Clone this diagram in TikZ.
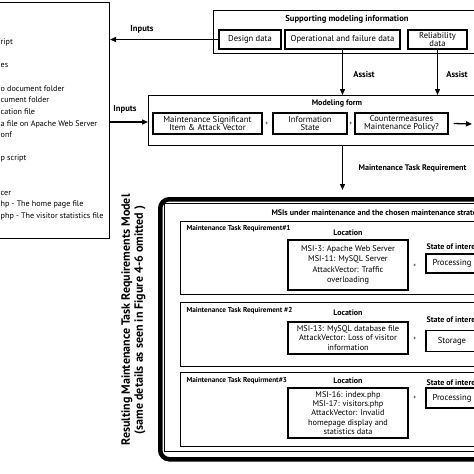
\documentclass[tikz,border=0pt]{standalone}
\usepackage{fontspec}
\setmainfont{PT Sans}
\usetikzlibrary{arrows.meta,calc}
\begin{document}
\begin{tikzpicture}[x=1pt,y=-1pt,
  fs/.style={font=\fontsize{8.6}{9.5}\selectfont},
  fb/.style={font=\fontsize{8.6}{9.5}\selectfont\bfseries},
  frame/.style={draw, line width=1pt, anchor=north west, inner sep=0pt},
  ibox/.style={draw, line width=1.2pt, align=center, inner sep=1pt, fs},
  lt/.style={anchor=west, inner sep=0pt, font=\fontsize{8.1}{9}\selectfont},
  arr/.style={line width=1.3pt, -{Triangle[length=6pt,width=5pt]}},
  plus/.style={inner sep=0pt, font=\fontsize{6}{6}\selectfont}
]
\useasboundingbox (0,0) rectangle (474,474);
\clip (0,0) rectangle (474,474);

% left source box
\node[frame, minimum width=129pt, minimum height=236pt] (src) at (-20,2) {};
\node[lt] (l1) at (0.5,42) {ript};
\node[lt] (l2) at (0.5,65) {es};
\node[lt] (l3) at (0.5,89) {o document folder};
\node[lt] (l4) at (0.5,100) {cument folder};
\node[lt] (l5) at (0.5,112) {cation file};
\node[lt] (l6) at (0.5,124) {a file on Apache Web Server};
\node[lt] (l7) at (0.5,135) {onf};
\node[lt] (l8) at (0.5,158) {p script};
\node[lt] (l9) at (0.5,193) {cer};
\node[lt] (l10) at (0.5,204) {hp - The home page file};
\node[lt] (l11) at (0.5,216) {php - The visitor statistics file};

% supporting modeling information
\node[frame, minimum width=280pt, minimum height=43pt] (sup) at (213,10) {};
\node[fb] (supt) at (347,19) {Supporting modeling information};
\node[ibox, minimum width=62pt, minimum height=19pt] (design) at (250,39.5) {Design data};
\node[ibox, minimum width=115pt, minimum height=19pt] (opdata) at (342.5,39.5) {Operational and failure data};
\node[ibox, minimum width=59pt, minimum height=19pt, font=\fontsize{8.6}{7.5}\selectfont] (rel) at (437.5,39.5) {Reliability\\data};

\draw[arr] (design.west) -- (src.east |- design.west);
\node[fb] (in1) at (142,29) {Inputs};

% modeling form
\node[frame, minimum width=340pt, minimum height=50pt] (mf) at (148,95) {};
\node[fb, font=\fontsize{8}{9}\selectfont\bfseries] (mft) at (337,104) {Modeling form};
\node[ibox, minimum width=109pt, minimum height=21pt, font=\fontsize{8.6}{8.5}\selectfont] (msiav) at (207.5,123.5) {Maintenance Significant\\Item \& Attack Vector};
\node[plus] (p1) at (267,124) {+};
\node[ibox, minimum width=74pt, minimum height=21pt, font=\fontsize{8.6}{8.5}\selectfont] (info) at (310,123.5) {Information\\State};
\node[plus] (p2) at (351,124) {+};
\node[ibox, minimum width=93pt, minimum height=21pt, font=\fontsize{8.6}{8.5}\selectfont] (cm) at (401.5,123.5) {Countermeasures\\Maintenance Policy?};
\coordinate (cmend) at (472,124);
\draw[arr] ([xshift=5pt]cm.east) -- (cmend);

\draw[arr] (src.east |- 0,122) -- (mf.west |- 0,122);
\node[fb] (in2) at (125,109) {Inputs};

\draw[arr] (opdata.south) -- (opdata.south |- mf.north);
\draw[arr] (rel.south) -- (rel.south |- mf.north);
\node[fb] (as1) at (364,75) {Assist};
\node[fb] (as2) at (457,75) {Assist};

% result frame
\node[draw, line width=4.5pt, rounded corners=9pt, anchor=north west, minimum width=400pt, minimum height=260pt, inner sep=0pt] (big) at (158,197) {};
\node[frame, minimum width=400pt, minimum height=248pt] (inner) at (164,203) {};
\draw[arr, shorten >=7pt] (opdata.south |- mf.south) -- (opdata.south |- big.north);
\node[fb, anchor=west, font=\fontsize{8.1}{9}\selectfont\bfseries] (mtr) at (355,168) {Maintenance Task Requirement};

\node[fb, anchor=west, font=\fontsize{8}{9}\selectfont\bfseries] (hdr) at (268,213) {MSIs under maintenance and the chosen maintenance strategy};

\node[rotate=90, font=\fontsize{12}{13}\selectfont\bfseries] (rot1) at (127,320) {Resulting Maintenance Task Requirements Model};
\node[rotate=90, font=\fontsize{12}{13}\selectfont\bfseries] (rot2) at (140,320) {(same details as seen in Figure 4-6 omitted )};

% panel 1
\node[frame, minimum width=400pt, minimum height=73pt] (pa) at (180,221) {};
\node[fb, anchor=west, font=\fontsize{7.2}{8}\selectfont\bfseries] (pat) at (183,229) {Maintenance Task Requirement\#1};
\node[fb, font=\fontsize{8}{9}\selectfont\bfseries] (loca) at (348,233) {Location};
\node[ibox, minimum width=120pt, minimum height=50pt, font=\fontsize{8.3}{10.5}\selectfont] (msia) at (348,265) {MSI-3: Apache Web Server\\MSI-11: MySQL Server\\AttackVector: Traffic\\overloading};
\node[plus] (pa1) at (415,266) {+};
\node[fb, anchor=west, font=\fontsize{8}{9}\selectfont\bfseries] (sta) at (423,247) {State of interest};
\node[ibox, minimum width=52pt, minimum height=19pt] (stba) at (452,263.5) {Processing};

% panel 2
\node[frame, minimum width=400pt, minimum height=64pt] (pb) at (180,302) {};
\node[fb, anchor=west, font=\fontsize{7.2}{8}\selectfont\bfseries] (pbt) at (183,311) {Maintenance Task Requirement \#2};
\node[fb, font=\fontsize{8}{9}\selectfont\bfseries] (locb) at (348,313) {Location};
\node[ibox, minimum width=120pt, minimum height=32pt, font=\fontsize{8.3}{9.5}\selectfont] (msib) at (348,338) {MSI-13: MySQL database file\\AttackVector: Loss of visitor\\information};
\node[plus] (pb1) at (415,339) {+};
\node[fb, anchor=west, font=\fontsize{8}{9}\selectfont\bfseries] (stb) at (423,320) {State of interest};
\node[ibox, minimum width=52pt, minimum height=21pt] (stbb) at (452,341) {Storage};

% panel 3
\node[frame, minimum width=400pt, minimum height=74pt] (pc) at (180,372) {};
\node[fb, anchor=west, font=\fontsize{7.2}{8}\selectfont\bfseries] (pct) at (183,381) {Maintenance Task Requirment\#3};
\node[fb, font=\fontsize{8}{9}\selectfont\bfseries] (locc) at (348,381) {Location};
\node[ibox, minimum width=120pt, minimum height=50pt, font=\fontsize{8.3}{9.3}\selectfont] (msic) at (348,413) {MSI-16: index.php\\MSI-17: visitors.php\\AttackVector: Invalid\\homepage display and\\statistics data};
\node[plus] (pc1) at (415,398) {+};
\node[fb, anchor=west, font=\fontsize{8}{9}\selectfont\bfseries] (stc) at (423,383) {State of interest};
\node[ibox, minimum width=52pt, minimum height=20pt] (stbc) at (452,398) {Processing};
\end{tikzpicture}
\end{document}
